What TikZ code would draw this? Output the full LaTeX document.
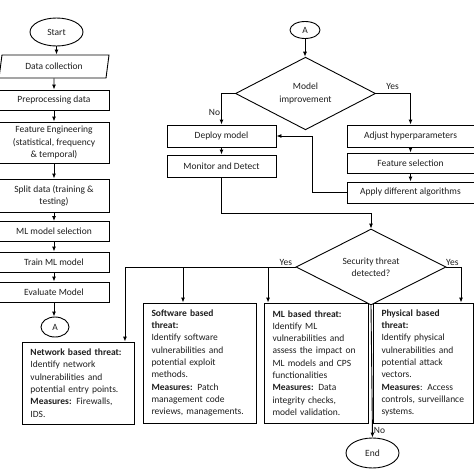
\documentclass[tikz,border=0pt]{standalone}
\usepackage{fontspec}
\setmainfont{Carlito}
\usetikzlibrary{shapes.geometric,arrows.meta,calc}
\definecolor{txt}{RGB}{30,30,30}
\begin{document}
\begin{tikzpicture}[x=1pt,y=-1pt, line width=0.9pt,
  every node/.style={font=\fontsize{9.5}{12.3}\selectfont, text=txt},
  box/.style={draw, rectangle, inner sep=1pt, align=center, minimum height=20},
  lbox/.style={box, minimum width=110},
  rbox/.style={box, minimum width=127},
  cbox/.style={box, minimum width=109, minimum height=22},
  para/.style={draw, trapezium, trapezium left angle=71, trapezium right angle=109,
    trapezium stretches body=true, minimum width=110, minimum height=23, inner sep=1pt},
  term/.style={draw, ellipse, inner sep=0pt},
  dia/.style={draw, diamond, inner sep=0pt, align=center},
  threat/.style={draw, rectangle, inner xsep=8pt, inner ysep=2pt, align=left},
  lab/.style={font=\fontsize{9.5}{11}\selectfont, inner sep=1pt},
  arr/.style={-{Latex[length=5pt,width=4pt]}}
]
\useasboundingbox (0,0) rectangle (474,474);

% left column
\node[term, minimum width=53, minimum height=28] (start) at (56.5,32) {Start};
\node[para] (dc) at (54,66.5) {Data collection};
\node[lbox] (pre) at (54,100) {Preprocessing data};
\node[lbox, minimum height=41] (fe) at (54,142.5) {Feature Engineering\\(statistical, frequency\\\& temporal)};
\node[lbox, minimum height=33] (split) at (54,195.5) {Split data (training \&\\testing)};
\node[lbox] (mlsel) at (54,231.5) {ML model selection};
\node[lbox] (train) at (54,262) {Train ML model};
\node[lbox] (eval) at (54,292) {Evaluate Model};
\node[term, minimum width=28, minimum height=20] (a1) at (55,327) {A};

% right upper part
\node[term, minimum width=30, minimum height=17] (a2) at (305,30) {A};
\node[dia, minimum width=140, minimum height=63] (d1) at (305.5,93.5) {Model\\improvement};
\node[cbox] (deploy) at (221.5,136) {Deploy model};
\node[cbox] (monitor) at (221.5,166) {Monitor and Detect};
\node[rbox, minimum height=22] (adjust) at (410.5,136) {Adjust hyperparameters};
\node[rbox] (fsel) at (410.5,163) {Feature selection};
\node[rbox, minimum height=21] (apply) at (410.5,192.5) {Apply different algorithms};

% security decision
\node[dia, minimum width=150, minimum height=70] (d2) at (371,267) {Security threat\\detected?};

% threat boxes
\node[threat, minimum width=111, minimum height=82, text width=96] (net) at (78.5,383)
 {\textbf{Network based threat:}\\Identify network\\vulnerabilities and\\potential entry points.\\\textbf{Measures:} Firewalls,\\IDS.};
\node[threat, minimum width=112, minimum height=120, text width=97] (sw) at (200,363)
 {\textbf{Software based}\\\textbf{threat:}\\Identify software\\vulnerabilities and\\potential exploit\\methods.\\\textbf{Measures:} Patch\\management code\\reviews, managements.};
\node[threat, minimum width=103, minimum height=120, text width=88] (ml) at (316.5,363)
 {\textbf{ML based threat:}\\Identify ML\\vulnerabilities and\\assess the impact on\\ML models and CPS\\functionalities\\\textbf{Measures:} Data\\integrity checks,\\model validation.};
\node[threat, minimum width=99, minimum height=120, text width=84] (phys) at (423.5,363)
 {\textbf{Physical based}\\\textbf{threat:}\\Identify physical\\vulnerabilities and\\potential attack\\vectors.\\\textbf{Measures}: Access\\controls, surveillance\\systems.};
\node[term, minimum width=53, minimum height=30] (end) at (372.5,453) {End};

% connectors left column
\draw[arr] (start.south) -- (start.south |- dc.north);
\draw[arr] (dc.south) -- (pre.north);
\draw[arr] (pre) -- (fe);
\draw[arr] (fe) -- (split);
\draw[arr] (split) -- (mlsel);
\draw[arr] (mlsel) -- (train);
\draw[arr] (train) -- (eval);
\draw[arr] (eval.south) -- (eval.south |- a1.north);

% right upper connectors
\draw[arr] (a2) -- (a2 |- d1.north);
\draw[arr] (d1.west) -| node[lab, pos=0.81, anchor=east]{No} (deploy.north);
\draw[arr] (d1.east) -| node[lab, pos=0.24, anchor=south, yshift=2]{Yes} (adjust.north);
\draw[arr] (adjust) -- (fsel);
\draw[arr] (fsel) -- (apply);
\draw[arr] (apply.west) -- ++(-34,0) |- (deploy.east);
\draw[arr] (deploy) -- (monitor);
\draw[arr] (monitor.south) -- ++(0,36) -| (d2.north);

% security branches
\draw[arr] (d2.west) -| node[lab, pos=0, anchor=south east, xshift=-2]{Yes} ([xshift=-10]net.north east);
\draw[arr] ([xshift=-17]sw.north |- d2.west) -- ([xshift=-17]sw.north);
\draw[arr] ([xshift=4]ml.north west |- d2.west) -- ([xshift=4]ml.north west);
\draw[arr] (d2.east) -| node[lab, pos=0.2, anchor=south]{Yes} ([xshift=37.5]phys.north);
\draw[arr] (d2.south) -- node[lab, pos=0.95, anchor=west]{No} (end.north);
\end{tikzpicture}
\end{document}
